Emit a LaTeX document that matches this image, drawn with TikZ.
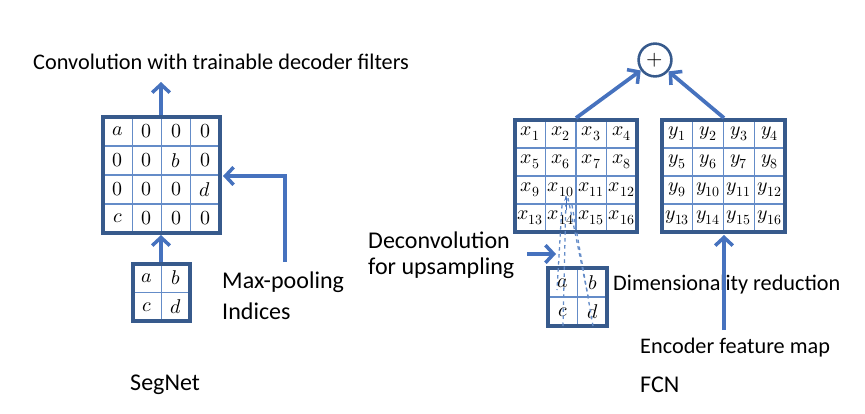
\documentclass[tikz,border=0pt]{standalone}
\usepackage{fontspec}
\setmainfont{Carlito}
\usepackage{unicode-math}
\setmathfont{Latin Modern Math}
\definecolor{arr}{RGB}{70,114,190}
\definecolor{frm}{RGB}{55,90,140}
\definecolor{inn}{RGB}{100,140,200}
\usetikzlibrary{arrows.meta}
\tikzset{
  flow/.style={arr, line width=3.2pt, -{Straight Barb[length=7pt,width=15pt,line width=3pt]}},
  lbl/.style={font=\fontsize{19}{21}\selectfont, anchor=west, inner sep=0pt},
  big/.style={font=\fontsize{20.5}{22}\selectfont, anchor=west, inner sep=0pt},
  cell/.style={font=\fontsize{17}{18}\selectfont, inner sep=0pt},
  dsh/.style={inn, dashed, line width=1.1pt}
}
\begin{document}
\begin{tikzpicture}[x=0.03cm,y=-0.03cm]
\useasboundingbox (0,0) rectangle (865,413);
% grid macro: #1 x0, #2 y0, #3 cell w, #4 cell h, #5 n
\newcommand{\mygrid}[5]{%
  \foreach \k in {1,...,\numexpr#5-1\relax}{
    \draw[inn, line width=1.1pt] ({#1+\k*#3},#2) -- ({#1+\k*#3},{#2+#5*#4});
    \draw[inn, line width=1.1pt] (#1,{#2+\k*#4}) -- ({#1+#5*#3},{#2+\k*#4});}
  \draw[frm, line width=3pt] (#1,#2) rectangle ({#1+#5*#3},{#2+#5*#4});}
% SegNet
\mygrid{103}{117}{29.25}{29}{4}
\foreach \t [count=\i from 0] in {a,0,0,0,0,0,b,0,0,0,0,d,c,0,0,0}{
  \pgfmathtruncatemacro{\r}{int(\i/4)}\pgfmathtruncatemacro{\c}{mod(\i,4)}
  \node[cell] at ({103+14.6+\c*29.25},{117+14.5+\r*29}) {$\t$};}
\mygrid{133}{264}{28.5}{28.5}{2}
\node[cell] at (147,278) {$a$};\node[cell] at (176,278) {$b$};
\node[cell] at (147,307) {$c$};\node[cell] at (176,307) {$d$};
\coordinate (sg1) at (161,262); \coordinate (sg2) at (161,235);
\coordinate (sg3) at (161,115); \coordinate (sg4) at (161,82);
\draw[flow] (sg1) -- (sg2);
\draw[flow] (sg3) -- (sg4);
\node[lbl] (conv) at (33,62) {Convolution with trainable decoder filters};
\coordinate (mp1) at (285,262); \coordinate (mp2) at (223,176);
\draw[flow] (mp1) |- (mp2);
\node[big] (mp) at (222,282) {Max-pooling};
\node[big] (ind) at (222,311) {Indices};
\node[big] (seg) at (130,385) {SegNet};
% FCN
\mygrid{515}{120}{30.5}{28}{4}
\mygrid{662}{120}{30.75}{28}{4}
\foreach \i in {1,...,16}{
  \pgfmathtruncatemacro{\r}{int((\i-1)/4)}\pgfmathtruncatemacro{\c}{mod(\i-1,4)}
  \node[cell] at ({515+15.25+\c*30.5},{120+14+\r*28}) {$x_{\i}$};
  \node[cell] at ({662+15.4+\c*30.75},{120+14+\r*28}) {$y_{\i}$};}
\mygrid{548}{268}{29.5}{29}{2}
\node[cell] at (563,283) {$a$};\node[cell] at (593,283) {$b$};
\node[cell] at (563,312) {$c$};\node[cell] at (593,312) {$d$};
\draw[dsh] (566,196) -- (563,326);
\draw[dsh] (568,198) -- (588,296);
\draw[dsh] (572,205) -- (593,326);
\draw[dsh] (562,205) -- (557,290);
\draw[arr, thick, -{Stealth[length=4pt]}] (566,210) -- (566,196);
\node[circle, draw=frm, line width=2.2pt, minimum size=28pt, inner sep=0pt, font=\fontsize{18}{18}\selectfont] (plus) at (655,60) {$+$};
\coordinate (fx) at (576,118); \coordinate (fy) at (724,118);
\draw[flow] (fx) -- (plus);
\draw[flow] (fy) -- (plus);
\node[big] (dec) at (368,240) {Deconvolution};
\node[big] (ups) at (368,268) {for upsampling};
\coordinate (da1) at (527,254); \coordinate (da2) at (556,254);
\draw[flow] (da1) -- (da2);
\node[lbl] (dim) at (613,285) {Dimensionality reduction};
\coordinate (e1) at (724,330); \coordinate (e2) at (724,235);
\draw[flow] (e1) -- (e2);
\node[lbl] (enc) at (640,348) {Encoder feature map};
\node[big] (fcn) at (640,385) {FCN};
\end{tikzpicture}
\end{document}
